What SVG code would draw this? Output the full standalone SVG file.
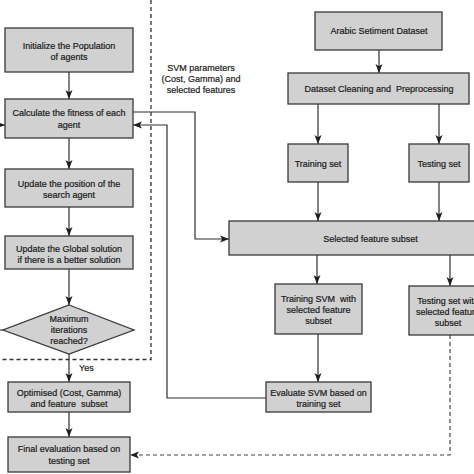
<svg xmlns="http://www.w3.org/2000/svg" width="474" height="474" viewBox="0 0 474 474">
<style>
.box{fill:#d1d1d1;stroke:#383838;stroke-width:1.3}
.t{font-family:"Liberation Sans",Arial,sans-serif;font-size:9px;fill:#1a1a1a;stroke:#1a1a1a;stroke-width:0.2;text-anchor:middle}
.ln{fill:none;stroke:#2e2e2e;stroke-width:1.2}
.dl{fill:none;stroke:#444;stroke-width:1.2;stroke-dasharray:4,3}
.sep{fill:none;stroke:#333;stroke-width:1.3;stroke-dasharray:4,3}
</style>
<defs>
<marker id="ah" markerWidth="10" markerHeight="8" refX="9" refY="4" orient="auto" markerUnits="userSpaceOnUse">
<path d="M0,0.5 L9,4 L0,7.5 L2.2,4 z" fill="#1e1e1e"/>
</marker>
</defs>
<rect width="474" height="474" fill="#ffffff"/>
<g id="separator">
<path class="sep" d="M151,0 V359.5 H0"/>
</g>
<g id="connectors">
<path class="ln" d="M69,72 V99" marker-end="url(#ah)"/>
<path class="ln" d="M69,138 V169" marker-end="url(#ah)"/>
<path class="ln" d="M69,207 V236" marker-end="url(#ah)"/>
<path class="ln" d="M69,269 V305" marker-end="url(#ah)"/>
<path class="ln" d="M69,354 V382" marker-end="url(#ah)"/>
<path class="ln" d="M69,412 V437" marker-end="url(#ah)"/>
<path class="ln" d="M3,330 H-10 V125 H5" marker-end="url(#ah)"/>
<path class="ln" d="M133,112 H195 V239 H229" marker-end="url(#ah)"/>
<path class="ln" d="M266,398 H167 V125 H133" marker-end="url(#ah)"/>
<path class="ln" d="M379,50 V73" marker-end="url(#ah)"/>
<path class="ln" d="M318,104 V144" marker-end="url(#ah)"/>
<path class="ln" d="M439,104 V144" marker-end="url(#ah)"/>
<path class="ln" d="M318,182 V221" marker-end="url(#ah)"/>
<path class="ln" d="M439,182 V221" marker-end="url(#ah)"/>
<path class="ln" d="M317,255 V284" marker-end="url(#ah)"/>
<path class="ln" d="M450,255 V286" marker-end="url(#ah)"/>
<path class="ln" d="M318,334 V382" marker-end="url(#ah)"/>
<path class="dl" d="M450,335 V455 H130" marker-end="url(#ah)"/>
<text class="t" x="79" y="371" style="text-anchor:start">Yes</text>
<text class="t" x="201" y="71">SVM parameters</text>
<text class="t" x="201" y="82">(Cost, Gamma) and</text>
<text class="t" x="201" y="93">selected features</text>
</g>
<g id="init">
<rect class="box" x="5" y="28" width="128" height="44"/>
<text class="t" x="69" y="48.5">Initialize the Population</text>
<text class="t" x="69" y="59.5">of agents</text>
</g>
<g id="fitness">
<rect class="box" x="5" y="99" width="128" height="39"/>
<text class="t" x="69" y="116">Calculate the fitness of each</text>
<text class="t" x="69" y="128">agent</text>
</g>
<g id="position">
<rect class="box" x="5" y="169" width="128" height="38"/>
<text class="t" x="69" y="186.5">Update the position of the</text>
<text class="t" x="69" y="197.5">search agent</text>
</g>
<g id="global">
<rect class="box" x="5" y="236" width="128" height="33"/>
<text class="t" x="69" y="252">Update the Global solution</text>
<text class="t" x="69" y="263">if there is a better solution</text>
</g>
<g id="decision">
<path class="box" d="M69,305 L134,330 L69,354 L3,330 z"/>
<text class="t" x="69" y="322">Maximum</text>
<text class="t" x="69" y="333">iterations</text>
<text class="t" x="69" y="344">reached?</text>
</g>
<g id="optimised">
<rect class="box" x="8" y="382" width="122" height="30"/>
<text class="t" x="69" y="396">Optimised (Cost, Gamma)</text>
<text class="t" x="69" y="406.5">and feature&#160; subset</text>
</g>
<g id="final">
<rect class="box" x="8" y="437" width="122" height="35"/>
<text class="t" x="69" y="452">Final evaluation based on</text>
<text class="t" x="69" y="464">testing set</text>
</g>
<g id="dataset">
<rect class="box" x="315" y="12" width="127" height="38"/>
<text class="t" x="379" y="34">Arabic Setiment Dataset</text>
</g>
<g id="cleaning">
<rect class="box" x="288" y="73" width="181" height="31"/>
<text class="t" x="379" y="92">Dataset Cleaning and&#160; Preprocessing</text>
</g>
<g id="training">
<rect class="box" x="288" y="144" width="60" height="38"/>
<text class="t" x="318" y="166.5">Training set</text>
</g>
<g id="testing">
<rect class="box" x="409" y="144" width="60" height="38"/>
<text class="t" x="439" y="166.5">Testing set</text>
</g>
<g id="selected">
<rect class="box" x="229" y="221" width="282" height="34"/>
<text class="t" x="370.5" y="241.5">Selected feature subset</text>
</g>
<g id="trainsvm">
<rect class="box" x="275" y="284" width="87" height="50"/>
<text class="t" x="318.5" y="301.5">Training SVM&#160; with</text>
<text class="t" x="318.5" y="312.5">selected feature</text>
<text class="t" x="318.5" y="323.5">subset</text>
</g>
<g id="testsel">
<rect class="box" x="409" y="286" width="78" height="49"/>
<text class="t" x="448" y="303.5">Testing set with</text>
<text class="t" x="448" y="314.5">selected feature</text>
<text class="t" x="448" y="325.5">subset</text>
</g>
<g id="evaluate">
<rect class="box" x="266" y="382" width="105" height="30"/>
<text class="t" x="318.5" y="396">Evaluate SVM based on</text>
<text class="t" x="318.5" y="406.5">training set</text>
</g>
</svg>
